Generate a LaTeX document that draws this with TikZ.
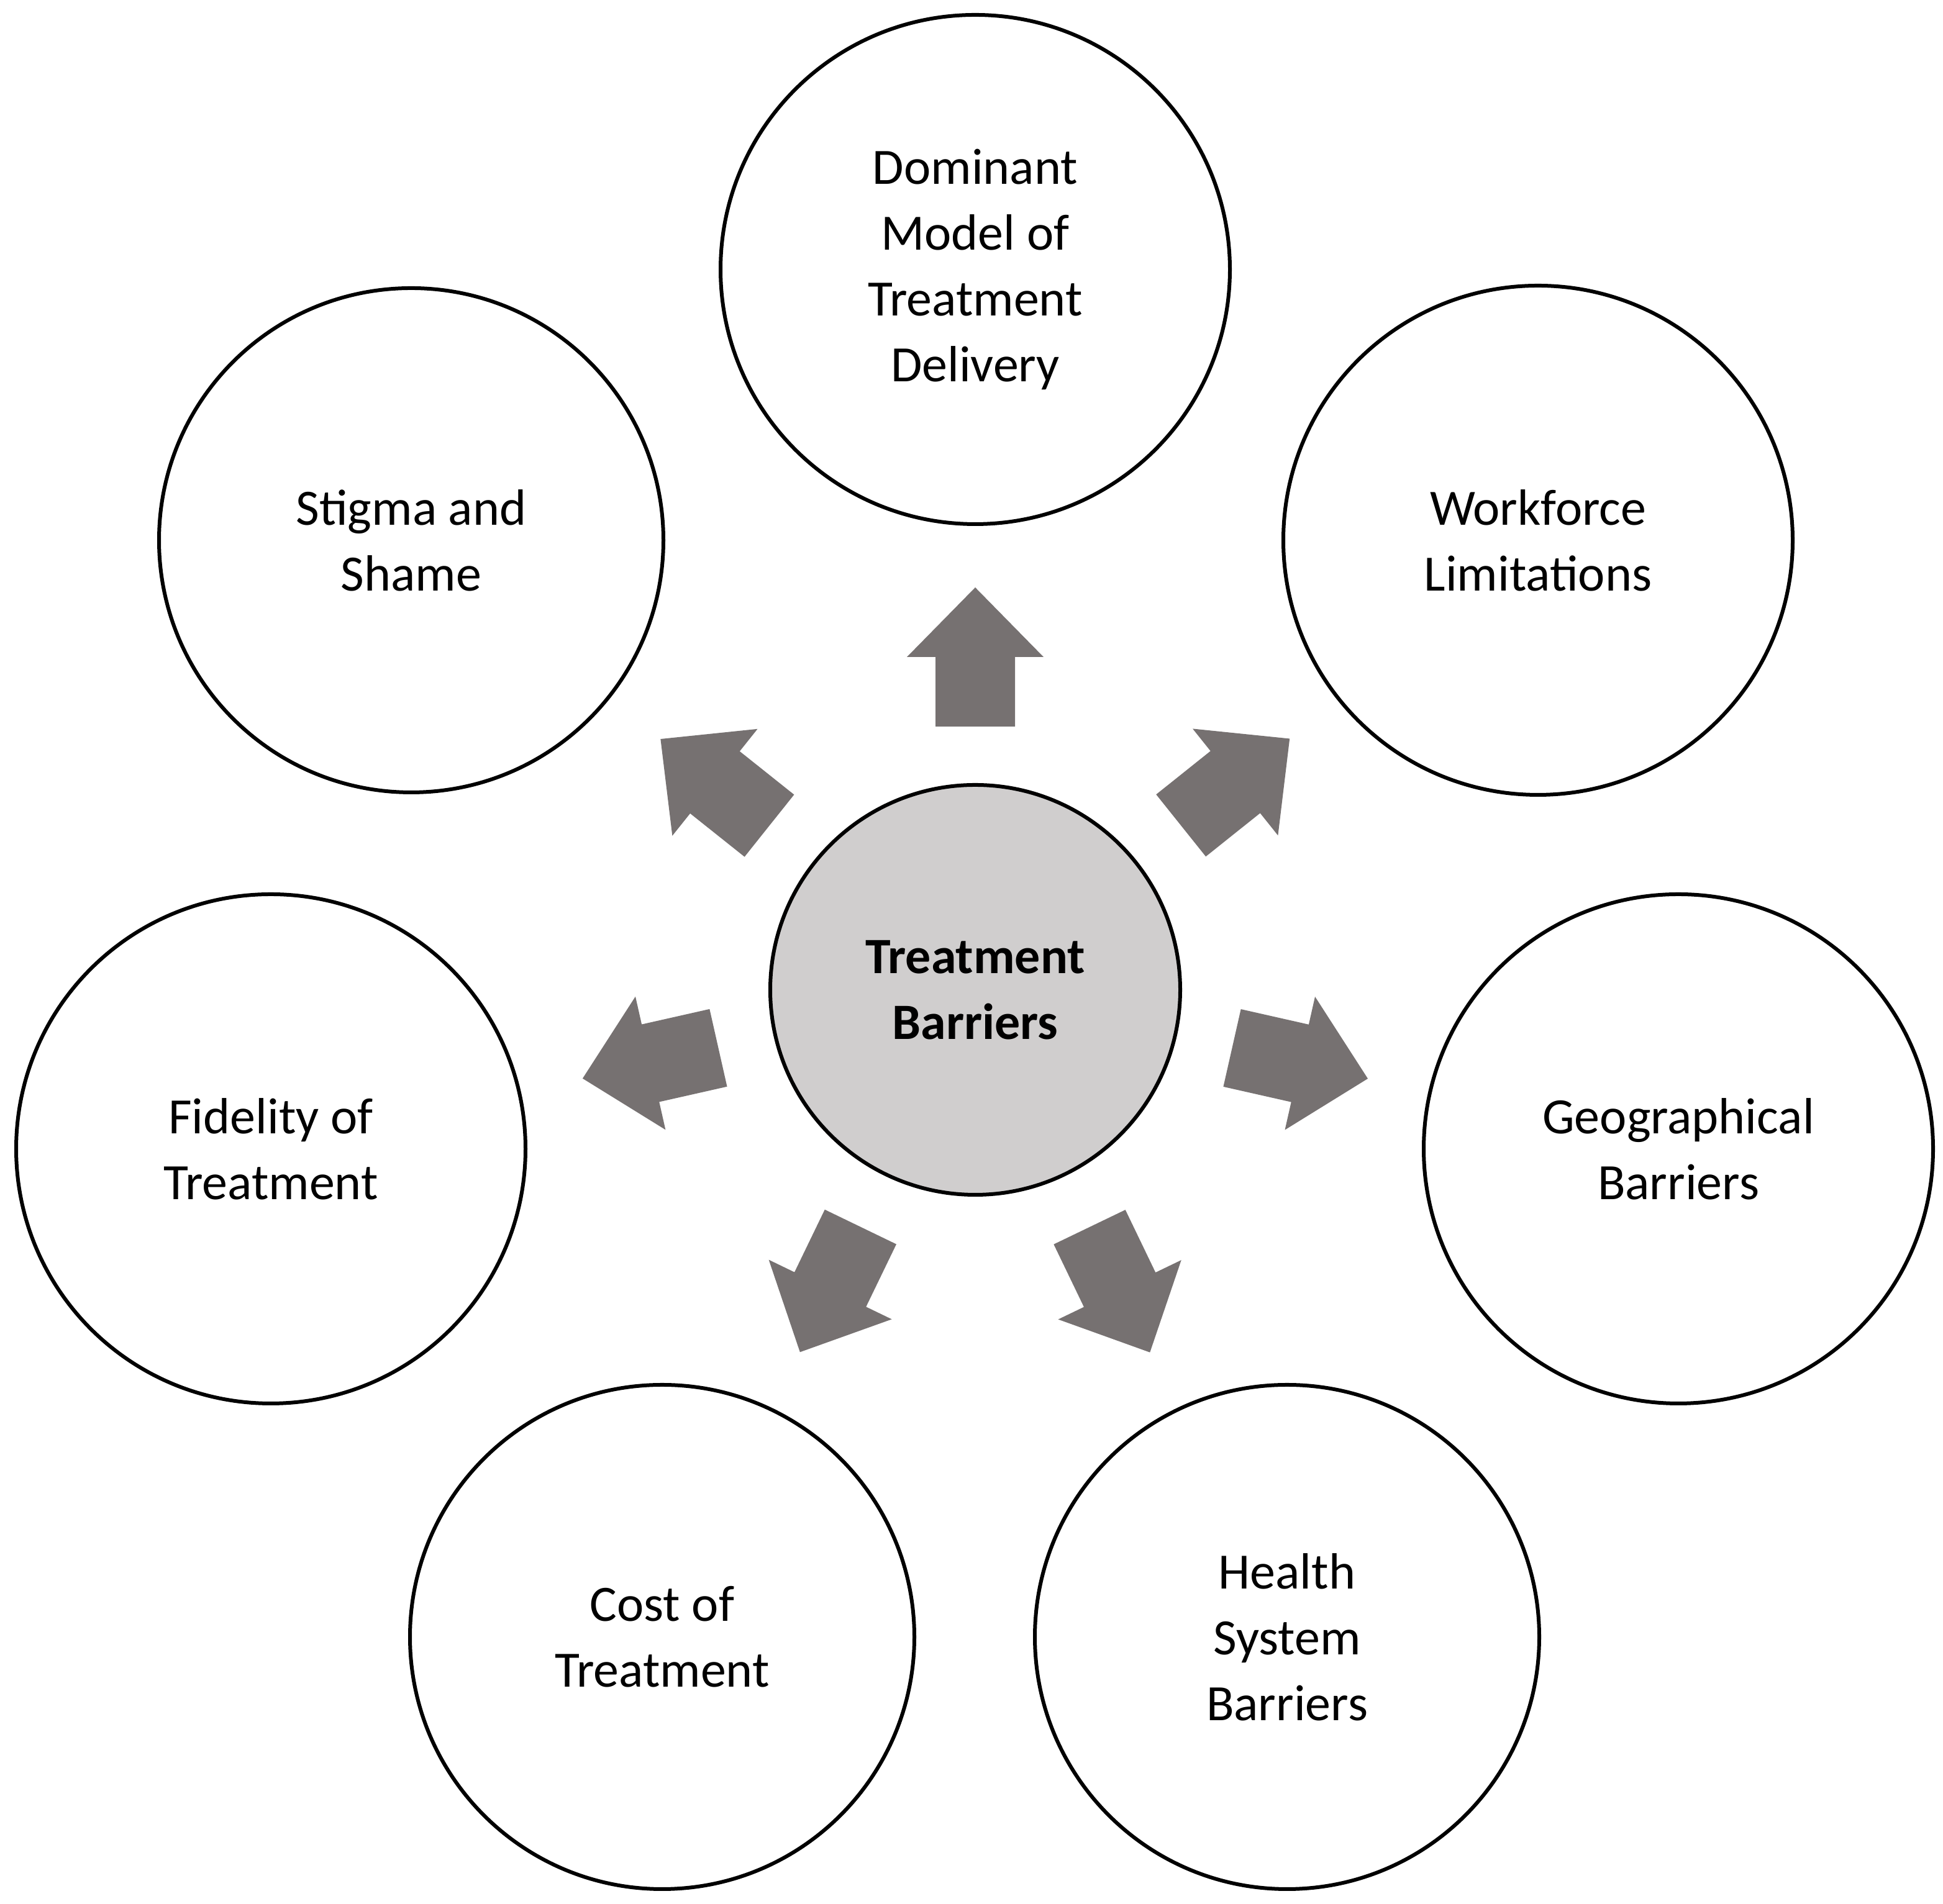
\documentclass[tikz,border=0pt]{standalone}
\usepackage{fontspec}
\setmainfont{Carlito}
\begin{document}
\begin{tikzpicture}[x=1pt,y=1pt,
  barrier/.style={circle,draw,line width=3pt,fill=white,align=center,inner sep=0pt,
    font=\fontsize{41}{53}\selectfont},
  hub/.style={barrier,fill=hubgray,font=\fontsize{41}{53}\selectfont\bfseries}]
\definecolor{hubgray}{RGB}{208,206,206}
\definecolor{arrowgray}{RGB}{118,113,113}
\useasboundingbox (0,0) rectangle (1564,1533);
% central node
\node[hub,minimum size=330pt] (c) at (785,736) {Treatment\\Barriers};
% surrounding barriers
\node[barrier,minimum size=410pt] (top)  at (785,1316) {Dominant\\Model of\\Treatment\\Delivery};
\node[barrier,minimum size=410pt] (work) at (1238,1098) {Workforce\\Limitations};
\node[barrier,minimum size=406pt] (stig) at (331,1098) {Stigma and\\Shame};
\node[barrier,minimum size=410pt] (fid)  at (218,608) {Fidelity of\\Treatment};
\node[barrier,minimum size=410pt] (geo)  at (1351,608) {Geographical\\Barriers};
\node[barrier,minimum size=406pt] (cost) at (533,215) {Cost of\\Treatment};
\node[barrier,minimum size=406pt] (hlth) at (1036,215) {Health\\System\\Barriers};
% block arrows from the hub toward each barrier
\foreach \t in {top,work,stig,fid,geo,cost,hlth}{
  \pgfmathanglebetweenpoints{\pgfpointanchor{c}{center}}{\pgfpointanchor{\t}{center}}
  \let\ang\pgfmathresult
  \begin{scope}[shift={(c.center)},rotate=\ang]
    \fill[arrowgray] (212,-32) -- (268,-32) -- (268,-55) -- (324,0)
      -- (268,55) -- (268,32) -- (212,32) -- cycle;
  \end{scope}
}
\end{tikzpicture}
\end{document}
